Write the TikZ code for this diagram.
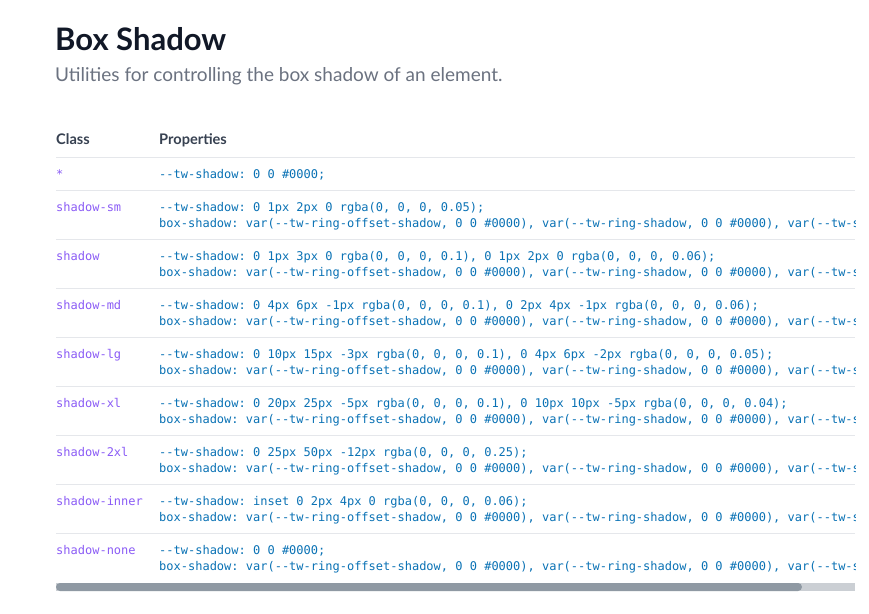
\documentclass[tikz,border=0pt]{standalone}
\usepackage{fontspec}
\setmainfont{Lato}
\setmonofont{DejaVu Sans Mono}
\definecolor{ttl}{HTML}{111827}
\definecolor{sub}{HTML}{6B7280}
\definecolor{hdr}{HTML}{374151}
\definecolor{cls}{HTML}{8B5CF6}
\definecolor{prop}{HTML}{0A72B5}
\definecolor{sep}{HTML}{E5E7EB}
\definecolor{thumb}{HTML}{8F99A3}
\definecolor{track}{HTML}{CBCFD4}
\begin{document}
\begin{tikzpicture}[x=1pt,y=-1pt,
  every node/.style={inner sep=0pt,anchor=base west},
  clsx/.style={font=\fontsize{12}{14}\ttfamily,text=cls},
  propx/.style={font=\fontsize{12}{14}\ttfamily,text=prop},
  sepline/.style={draw=sep,line width=1pt}]
\useasboundingbox (0,0) rectangle (869,613);
\fill[white] (0,0) rectangle (869,613);
\node[font=\fontsize{31}{34}\selectfont\bfseries,text=ttl] (title) at (55,50) {Box Shadow};
\node[font=\fontsize{19}{21}\selectfont,text=sub] (subt) at (55,81) {Utilities for controlling the box shadow of an element.};
\node[font=\fontsize{14.6}{16}\selectfont\bfseries,text=hdr] (hc) at (56,144) {Class};
\node[font=\fontsize{14.6}{16}\selectfont\bfseries,text=hdr] (hp) at (159,144) {Properties};
\foreach \y in {157,190,239,288,337,386,435,484,533} \draw[sepline] (56,\y) -- (855,\y);
\def\bx{box-shadow: var(--tw-ring-offset-shadow, 0 0 \#0000), var(--tw-ring-shadow, 0 0 \#0000), var(--tw-shadow);}
\begin{scope}
\clip (0,150) rectangle (855,580);
\node[clsx] (c0) at (56,178) {*};
\node[propx] (p0) at (159,178) {--tw-shadow: 0 0 \#0000;};
\foreach \n/\s/\c/\t in {1/190/shadow-sm/{--tw-shadow: 0 1px 2px 0 rgba(0, 0, 0, 0.05);},
  2/239/shadow/{--tw-shadow: 0 1px 3px 0 rgba(0, 0, 0, 0.1), 0 1px 2px 0 rgba(0, 0, 0, 0.06);},
  3/288/shadow-md/{--tw-shadow: 0 4px 6px -1px rgba(0, 0, 0, 0.1), 0 2px 4px -1px rgba(0, 0, 0, 0.06);},
  4/337/shadow-lg/{--tw-shadow: 0 10px 15px -3px rgba(0, 0, 0, 0.1), 0 4px 6px -2px rgba(0, 0, 0, 0.05);},
  5/386/shadow-xl/{--tw-shadow: 0 20px 25px -5px rgba(0, 0, 0, 0.1), 0 10px 10px -5px rgba(0, 0, 0, 0.04);},
  6/435/shadow-2xl/{--tw-shadow: 0 25px 50px -12px rgba(0, 0, 0, 0.25);},
  7/484/shadow-inner/{--tw-shadow: inset 0 2px 4px 0 rgba(0, 0, 0, 0.06);},
  8/533/shadow-none/{--tw-shadow: 0 0 \#0000;}} {
  \node[clsx] (c\n) at (56,\s+21) {\c};
  \node[propx] (p\n) at (159,\s+21) {\t};
  \node[propx] (q\n) at (159,\s+37) {\bx};
}
\end{scope}
\fill[track] (56,583) rectangle (855,591);
\fill[thumb,rounded corners=4pt] (56,583) rectangle (802,591);
\end{tikzpicture}
\end{document}
